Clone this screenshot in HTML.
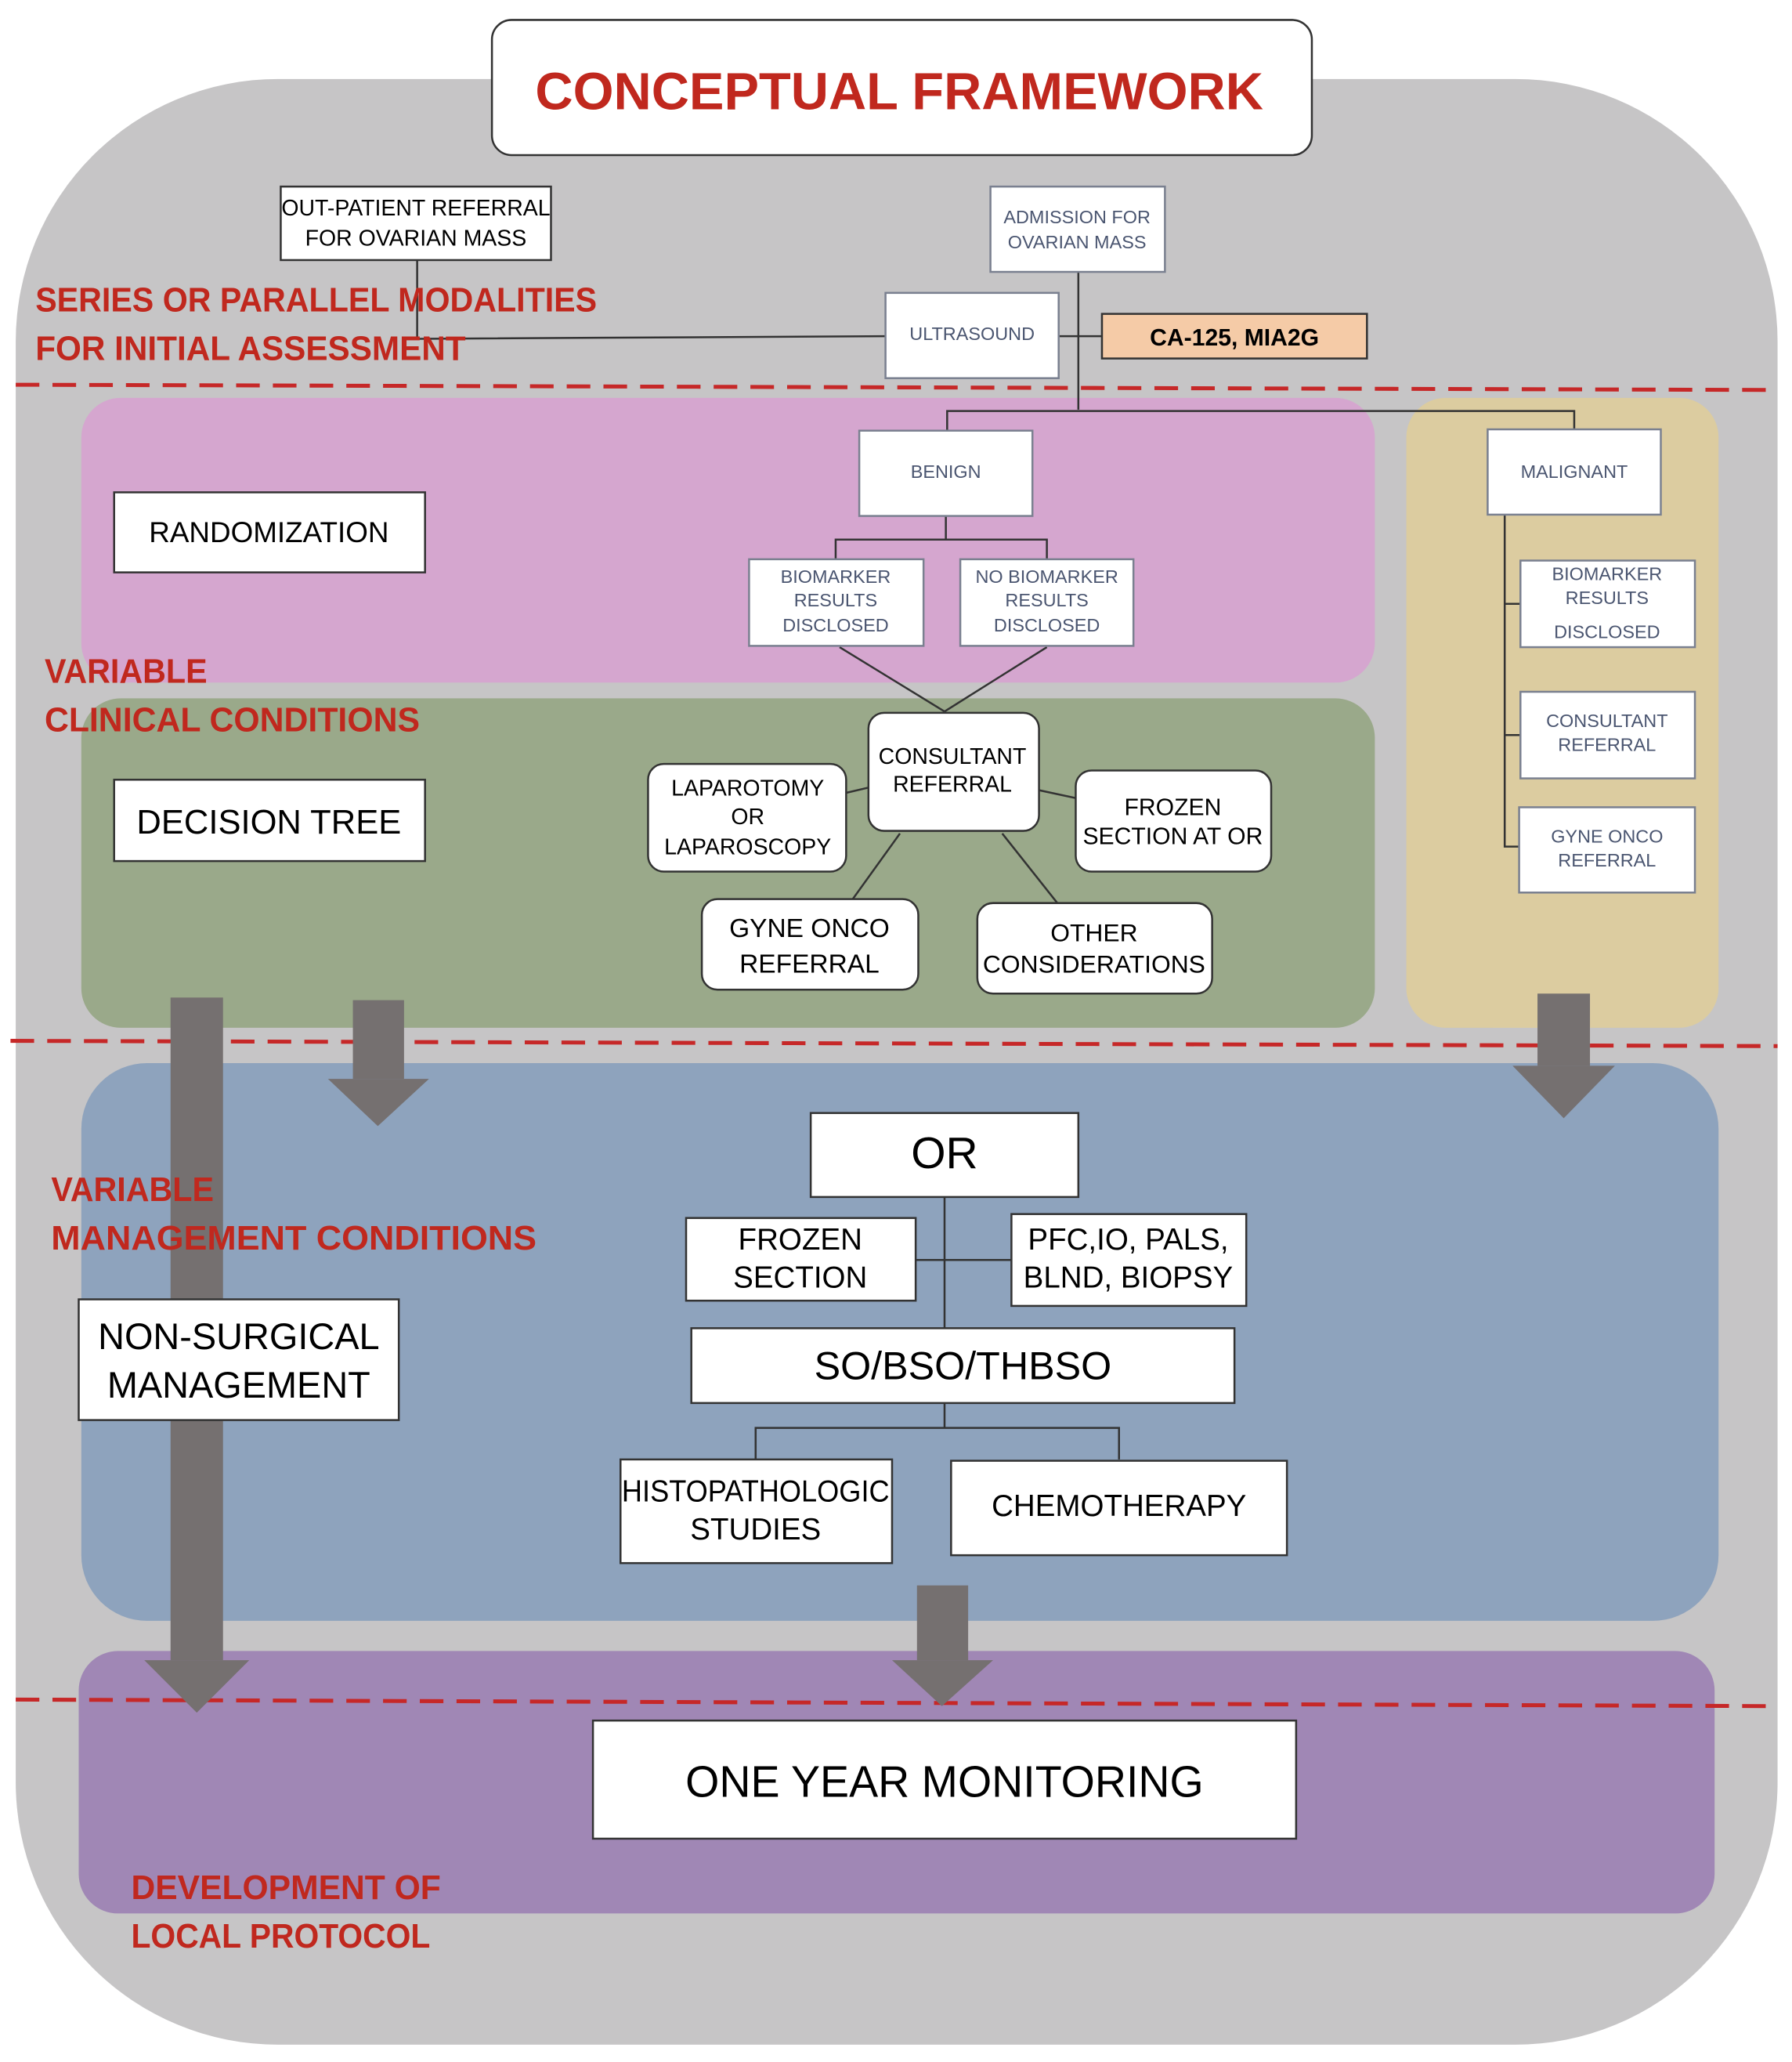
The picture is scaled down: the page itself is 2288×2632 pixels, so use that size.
<!DOCTYPE html>
<html><head><meta charset="utf-8"><style>html,body{margin:0;padding:0;background:#fff}svg{display:block}</style></head>
<body>
<svg width="2288" height="2632" viewBox="0 0 1366 1571" xmlns="http://www.w3.org/2000/svg" font-family="Liberation Sans, sans-serif">
<rect x="12" y="60" width="1343" height="1498" rx="200" fill="#c6c5c6"/>
<rect x="62" y="303" width="986" height="217" rx="30" fill="#d5a6cf"/>
<rect x="62" y="532" width="986" height="251" rx="30" fill="#9aa98a"/>
<rect x="1072" y="303" width="238" height="480" rx="30" fill="#dccca0"/>
<rect x="62" y="810" width="1248" height="425" rx="50" fill="#8ea3bd"/>
<rect x="60" y="1258" width="1247" height="200" rx="30" fill="#a087b5"/>
<g stroke="#c62828" stroke-width="3" stroke-dasharray="18,10" fill="none">
<line x1="12" y1="293" x2="1355" y2="297"/>
<line x1="8" y1="793" x2="1355" y2="797"/>
<line x1="12" y1="1295" x2="1355" y2="1300"/>
</g>
<g fill="#757070">
<rect x="130" y="760" width="40" height="505"/><polygon points="110,1265 190,1265 150,1305"/>
<rect x="269" y="762" width="39" height="60"/><polygon points="250,822 327,822 288,858"/>
<rect x="1172" y="757" width="40" height="55"/><polygon points="1153,812 1231,812 1192,852"/>
<rect x="699" y="1208" width="39" height="57"/><polygon points="680,1265 757,1265 718,1300"/>
</g>
<g stroke="#333" stroke-width="1.5" fill="none">
<polyline points="318,198 318,258 675,256"/>
<line x1="822" y1="207" x2="822" y2="312"/>
<line x1="807" y1="256" x2="840" y2="256"/>
<polyline points="722,328 722,313 1200,313 1200,327"/>
<polyline points="721,393 721,411"/><polyline points="637,426 637,411 798,411 798,426"/>
<line x1="640" y1="493" x2="720" y2="542"/><line x1="798" y1="493" x2="720" y2="542"/>
<line x1="645" y1="604" x2="662" y2="600"/><line x1="792" y1="602" x2="820" y2="608"/>
<line x1="686" y1="635" x2="650" y2="685"/><line x1="764" y1="635" x2="806" y2="688"/>
<polyline points="1147,392 1147,645 1160,645"/><line x1="1147" y1="460" x2="1160" y2="460"/><line x1="1147" y1="560" x2="1160" y2="560"/>
<line x1="720" y1="912" x2="720" y2="1012"/><line x1="698" y1="960" x2="771" y2="960"/>
<line x1="720" y1="1069" x2="720" y2="1088"/><polyline points="576,1112 576,1088 853,1088 853,1112"/>
</g>
<g fill="#fff" stroke="#333" stroke-width="1.5">
<rect x="375" y="15" width="625" height="103" rx="15"/>
<rect x="214" y="142" width="206" height="56"/>
<rect x="755" y="142" width="133" height="65" stroke="#7a8090"/>
<rect x="675" y="223" width="132" height="65" stroke="#7a8090"/>
<rect x="840" y="239" width="202" height="34" fill="#f5cba7"/>
<rect x="87" y="375" width="237" height="61"/>
<rect x="655" y="328" width="132" height="65" stroke="#7a8090"/>
<rect x="571" y="426" width="133" height="66" stroke="#7a8090"/>
<rect x="732" y="426" width="132" height="66" stroke="#7a8090"/>
<rect x="1134" y="327" width="132" height="65" stroke="#7a8090"/>
<rect x="1159" y="427" width="133" height="66" stroke="#7a8090"/>
<rect x="1159" y="527" width="133" height="66" stroke="#7a8090"/>
<rect x="1158" y="615" width="134" height="65" stroke="#7a8090"/>
<rect x="662" y="543" width="130" height="90" rx="12"/>
<rect x="494" y="582" width="151" height="82" rx="12"/>
<rect x="820" y="587" width="149" height="77" rx="12"/>
<rect x="535" y="685" width="165" height="69" rx="12"/>
<rect x="745" y="688" width="179" height="69" rx="12"/>
<rect x="87" y="594" width="237" height="62"/>
<rect x="60" y="990" width="244" height="92"/>
<rect x="618" y="848" width="204" height="64"/>
<rect x="523" y="928" width="175" height="63"/>
<rect x="771" y="925" width="179" height="70"/>
<rect x="527" y="1012" width="414" height="57"/>
<rect x="473" y="1112" width="207" height="79"/>
<rect x="725" y="1113" width="256" height="72"/>
<rect x="452" y="1311" width="536" height="90"/>
</g>
<g fill="#c0281e" font-weight="bold">
<text x="408" y="83" font-size="40" textLength="555" lengthAdjust="spacingAndGlyphs">CONCEPTUAL FRAMEWORK</text>
<text x="27" y="237" font-size="26" textLength="428" lengthAdjust="spacingAndGlyphs">SERIES OR PARALLEL MODALITIES</text>
<text x="27" y="274" font-size="26" textLength="328" lengthAdjust="spacingAndGlyphs">FOR INITIAL ASSESSMENT</text>
<text x="34" y="520" font-size="26" textLength="124" lengthAdjust="spacingAndGlyphs">VARIABLE</text>
<text x="34" y="557" font-size="26" textLength="286" lengthAdjust="spacingAndGlyphs">CLINICAL CONDITIONS</text>
<text x="39" y="915" font-size="26" textLength="124" lengthAdjust="spacingAndGlyphs">VARIABLE</text>
<text x="39" y="952" font-size="26" textLength="370" lengthAdjust="spacingAndGlyphs">MANAGEMENT CONDITIONS</text>
<text x="100" y="1447" font-size="26" textLength="236" lengthAdjust="spacingAndGlyphs">DEVELOPMENT OF</text>
<text x="100" y="1484" font-size="26" textLength="228" lengthAdjust="spacingAndGlyphs">LOCAL PROTOCOL</text>
</g>
<g fill="#000" text-anchor="middle">
<text x="317" y="164" font-size="17">OUT-PATIENT REFERRAL</text><text x="317" y="187" font-size="17">FOR OVARIAN MASS</text>
<text x="941" y="263" font-size="18" font-weight="bold">CA-125, MIA2G</text>
<text x="205" y="413" font-size="22">RANDOMIZATION</text>
<text x="205" y="635" font-size="26">DECISION TREE</text>
<text x="726" y="582" font-size="17">CONSULTANT</text><text x="726" y="603" font-size="17">REFERRAL</text>
<text x="570" y="606" font-size="17">LAPAROTOMY</text><text x="570" y="628" font-size="17">OR</text><text x="570" y="651" font-size="17">LAPAROSCOPY</text>
<text x="894" y="621" font-size="18">FROZEN</text><text x="894" y="643" font-size="18">SECTION AT OR</text>
<text x="617" y="714" font-size="20">GYNE ONCO</text><text x="617" y="741" font-size="20">REFERRAL</text>
<text x="834" y="717" font-size="19">OTHER</text><text x="834" y="741" font-size="19">CONSIDERATIONS</text>
<text x="182" y="1028" font-size="28">NON-SURGICAL</text><text x="182" y="1065" font-size="28">MANAGEMENT</text>
<text x="720" y="890" font-size="34">OR</text>
<text x="610" y="952" font-size="23">FROZEN</text><text x="610" y="981" font-size="23">SECTION</text>
<text x="860" y="952" font-size="23">PFC,IO, PALS,</text><text x="860" y="981" font-size="23">BLND, BIOPSY</text>
<text x="734" y="1051" font-size="30">SO/BSO/THBSO</text>
<text x="576" y="1144" font-size="23" textLength="204" lengthAdjust="spacingAndGlyphs">HISTOPATHOLOGIC</text><text x="576" y="1173" font-size="23">STUDIES</text>
<text x="853" y="1155" font-size="23">CHEMOTHERAPY</text>
<text x="720" y="1369" font-size="34" textLength="395" lengthAdjust="spacingAndGlyphs">ONE YEAR MONITORING</text>
</g>
<g fill="#4a5570" text-anchor="middle" font-size="14">
<text x="821" y="170">ADMISSION FOR</text><text x="821" y="189">OVARIAN MASS</text>
<text x="741" y="259">ULTRASOUND</text>
<text x="721" y="364">BENIGN</text>
<text x="637" y="444">BIOMARKER</text><text x="637" y="462">RESULTS</text><text x="637" y="481">DISCLOSED</text>
<text x="798" y="444">NO BIOMARKER</text><text x="798" y="462">RESULTS</text><text x="798" y="481">DISCLOSED</text>
<text x="1200" y="364">MALIGNANT</text>
<text x="1225" y="442">BIOMARKER</text><text x="1225" y="460">RESULTS</text><text x="1225" y="486">DISCLOSED</text>
<text x="1225" y="554">CONSULTANT</text><text x="1225" y="572">REFERRAL</text>
<text x="1225" y="642">GYNE ONCO</text><text x="1225" y="660">REFERRAL</text>
</g>
</svg>
</body></html>
